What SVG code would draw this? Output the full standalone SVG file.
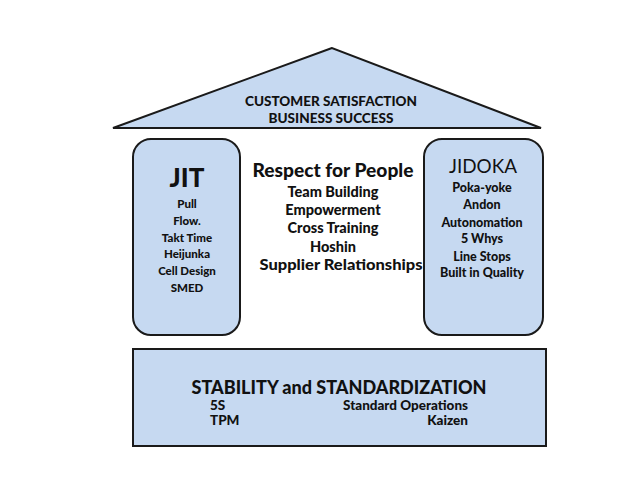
<svg xmlns="http://www.w3.org/2000/svg" width="638" height="478" viewBox="0 0 638 478">
<style>
.shape{fill:#c6d9f1;stroke:#1a1a1a;stroke-width:2}
text{font-family:Lato,"Open Sans","Liberation Sans",sans-serif;fill:#111;text-anchor:middle;font-weight:900}
.s{font-size:12.5px}
.j{font-size:11.5px}
.m{font-size:14.5px}
</style>
<rect width="638" height="478" fill="#fff"/>
<g id="roof">
<polygon class="shape" points="332,48 113,128 541,128"/>
<text x="331" y="106" font-size="14" textLength="172" lengthAdjust="spacingAndGlyphs">CUSTOMER SATISFACTION</text>
<text x="331" y="123" font-size="14" textLength="125" lengthAdjust="spacingAndGlyphs">BUSINESS SUCCESS</text>
</g>
<g id="jit">
<rect class="shape" x="133" y="139" width="107" height="196" rx="18"/>
<text x="187" y="187" font-size="26">JIT</text>
<text class="j" x="187" y="208">Pull</text>
<text class="j" x="187" y="225">Flow.</text>
<text class="j" x="187" y="242">Takt Time</text>
<text class="j" x="187" y="258">Heijunka</text>
<text class="j" x="187" y="275">Cell Design</text>
<text class="j" x="187" y="292">SMED</text>
</g>
<g id="respect">
<text x="333" y="177" font-size="18" textLength="161" lengthAdjust="spacingAndGlyphs">Respect for People</text>
<text class="m" x="333" y="197">Team Building</text>
<text class="m" x="333" y="215">Empowerment</text>
<text class="m" x="333" y="233">Cross Training</text>
<text class="m" x="333" y="252">Hoshin</text>
<text class="m" x="341" y="270" textLength="163" lengthAdjust="spacingAndGlyphs">Supplier Relationships</text>
</g>
<g id="jidoka">
<rect class="shape" x="424" y="139" width="119" height="196" rx="18"/>
<text x="483" y="173" font-size="20" style="font-weight:normal" textLength="68" lengthAdjust="spacingAndGlyphs">JIDOKA</text>
<text class="s" x="482" y="192">Poka-yoke</text>
<text class="s" x="482" y="209">Andon</text>
<text class="s" x="482" y="227">Autonomation</text>
<text class="s" x="482" y="243">5 Whys</text>
<text class="s" x="482" y="261">Line Stops</text>
<text class="s" x="482" y="277">Built in Quality</text>
</g>
<g id="stability">
<rect class="shape" x="133" y="349" width="413" height="97"/>
<text x="339" y="394" font-size="19" textLength="295" lengthAdjust="spacingAndGlyphs">STABILITY and STANDARDIZATION</text>
<text class="m" x="210" y="410" style="text-anchor:start;font-size:13.5px">5S</text>
<text class="m" x="210" y="425" style="text-anchor:start;font-size:13.5px">TPM</text>
<text class="m" x="468" y="410" style="text-anchor:end;font-size:13.5px" textLength="125" lengthAdjust="spacingAndGlyphs">Standard Operations</text>
<text class="m" x="468" y="425" style="text-anchor:end;font-size:13.5px">Kaizen</text>
</g>
<g id="connectors"></g>
</svg>
